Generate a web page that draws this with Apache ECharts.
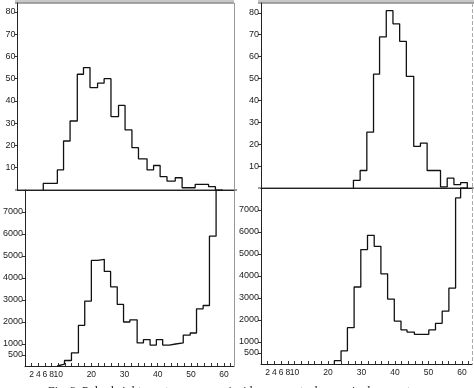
<!DOCTYPE html>
<html><head><meta charset="utf-8">
<script src="https://cdn.jsdelivr.net/npm/echarts@6/dist/echarts.min.js"></script>
<style>html,body{margin:0;padding:0;background:#fff}#c{width:474px;height:388px}</style>
</head><body><div id="c"></div>
<script>
// ---- data (bin edges and counts) ----
const edgesTopLeft = [7.5, 11.6, 13.4, 15.3, 17.4, 19.2, 21.1, 23.3, 25.2, 27.2, 29.4, 31.3, 33.3, 35.2, 37.7, 39.6, 41.5, 43.5, 45.9, 47.9, 51.7, 55.6, 57.6];
const countsTopLeft = [3, 9, 22, 31, 52, 55, 46, 48, 50, 33, 38, 27, 19, 14, 9, 11, 6, 4, 5.5, 1, 2.5, 1.5];

const edgesBottomLeft = [9.7, 11.9, 14.0, 16.1, 18.0, 20.0, 21.9, 23.9, 25.8, 27.8, 29.7, 31.6, 33.8, 35.7, 37.7, 39.6, 41.5, 43.5, 45.4, 47.7, 49.8, 51.7, 53.7, 55.6, 57.6, 59.6];
const countsBottomLeft = [80, 250, 600, 1850, 2950, 4800, 4850, 4300, 3600, 2800, 2000, 2100, 1050, 1200, 950, 1200, 950, 1000, 1050, 1400, 1500, 2600, 2750, 5900, 8000];

const edgesTopRight = [27.6, 29.6, 31.6, 33.6, 35.4, 37.4, 39.4, 41.4, 43.4, 45.6, 47.6, 49.6, 53.6, 55.6, 57.6, 59.6, 61.6];
const countsTopRight = [3.5, 8, 25.5, 52, 69, 81, 75, 67, 51, 19, 20.5, 8, 0.5, 4.5, 1.5, 2.5];

const edgesBottomRight = [21.9, 23.9, 25.8, 27.8, 29.8, 31.8, 33.8, 35.8, 37.8, 39.8, 41.8, 43.6, 45.8, 50.1, 52.1, 54.1, 56.1, 58.1, 59.6, 61.6];
const countsBottomRight = [150, 600, 1650, 3500, 5200, 5850, 5350, 4100, 2950, 1950, 1550, 1450, 1350, 1550, 1850, 2400, 3450, 7550, 8000];

const xTickLabels = [2, 4, 6, 8, 10, 20, 30, 40, 50, 60];
const xMinorTicks = [2,4,6,8,10,12,14,16,18,20,22,24,26,28,30,32,34,36,38,40,42,44,46,48,50,52,54,56,58,60,62];
const yTickLabelsTop = [10, 20, 30, 40, 50, 60, 70, 80];
const yTickLabelsBottom = [500, 1000, 2000, 3000, 4000, 5000, 6000, 7000];
const captionText = "Fig. 3. Pulse height spectra: upper, coincidence events; lower, singles counts";

// ---- build step outlines ----
function outline(edges, counts, overflow) {
  const pts = [[edges[0], 0]];
  for (let i = 0; i < counts.length; i++) {
    pts.push([edges[i], counts[i]]);
    pts.push([edges[i + 1], counts[i]]);
  }
  if (!overflow) pts.push([edges[edges.length - 1], 0]);
  return pts;
}

const FONT = 'Liberation Sans';
const lineCol = '#111';
const plain = v => String(v);

function xAxis(gi, showLabels) {
  return {
    type: 'value', gridIndex: gi, min: 0, max: 63,
    axisLine: {show: true, onZero: false, lineStyle: {color: '#222', width: 1}},
    splitLine: {show: false},
    axisTick: showLabels ? {show: true, inside: true, length: 3, customValues: xMinorTicks, lineStyle: {color: '#333'}} : {show: false},
    axisLabel: showLabels ? {show: true, customValues: xTickLabels, formatter: plain, fontFamily: FONT, fontSize: 8.5, color: '#222', margin: 4} : {show: false}
  };
}
function yAxis(gi, max, vals) {
  return {
    type: 'value', gridIndex: gi, min: 0, max: max,
    axisLine: {show: true, lineStyle: {color: '#222', width: 1}},
    splitLine: {show: false},
    axisTick: {show: true, inside: false, length: 3, customValues: vals, lineStyle: {color: '#333'}},
    axisLabel: {show: true, customValues: vals, formatter: plain, fontFamily: FONT, fontSize: 9, color: '#222', margin: 2}
  };
}

const chart = echarts.init(document.getElementById('c'), null, {renderer: 'canvas'});
chart.setOption({
  animation: false,
  backgroundColor: '#fff',
  grid: [
    {left: 17.5, top: 3, width: 216.5, height: 187},
    {left: 17.5, top: 190, width: 216.5, height: 176},
    {left: 261, top: 3, width: 211, height: 185},
    {left: 261, top: 188, width: 211, height: 176}
  ],
  xAxis: [xAxis(0, false), xAxis(1, true), xAxis(2, false), xAxis(3, true)],
  yAxis: [yAxis(0, 84, yTickLabelsTop), yAxis(1, 8000, yTickLabelsBottom), yAxis(2, 84.5, yTickLabelsTop), yAxis(3, 8000, yTickLabelsBottom)],
  series: [
    {type: 'line', xAxisIndex: 0, yAxisIndex: 0, data: outline(edgesTopLeft, countsTopLeft, false)},
    {type: 'line', xAxisIndex: 1, yAxisIndex: 1, data: outline(edgesBottomLeft, countsBottomLeft, true)},
    {type: 'line', xAxisIndex: 2, yAxisIndex: 2, data: outline(edgesTopRight, countsTopRight, false)},
    {type: 'line', xAxisIndex: 3, yAxisIndex: 3, data: outline(edgesBottomRight, countsBottomRight, true)}
  ].map(s => Object.assign(s, {showSymbol: false, symbol: 'none', clip: true, lineStyle: {color: lineCol, width: 1.3}})),
  graphic: [
    {type: 'rect', shape: {x: 15, y: 0, width: 219, height: 2.5}, style: {fill: '#c8c8c8'}, silent: true},
    {type: 'rect', shape: {x: 258, y: 0, width: 216, height: 2.5}, style: {fill: '#c8c8c8'}, silent: true},
    {type: 'line', shape: {x1: 15, y1: 3, x2: 234, y2: 3}, style: {stroke: '#555', lineWidth: 1}, silent: true},
    {type: 'line', shape: {x1: 258, y1: 3, x2: 474, y2: 3}, style: {stroke: '#555', lineWidth: 1}, silent: true},
    {type: 'line', shape: {x1: 15, y1: 190, x2: 237, y2: 190}, style: {stroke: '#333', lineWidth: 1}, silent: true},
    {type: 'line', shape: {x1: 258, y1: 188, x2: 474, y2: 188}, style: {stroke: '#444', lineWidth: 1}, silent: true},
    {type: 'line', shape: {x1: 234.5, y1: 3, x2: 234.5, y2: 366}, style: {stroke: '#999', lineWidth: 1}, silent: true},
    {type: 'line', shape: {x1: 472.5, y1: 3, x2: 472.5, y2: 364}, style: {stroke: '#aaa', lineWidth: 1, lineDash: [4, 2]}, silent: true},
    {type: 'text', left: 48, top: 386, style: {text: captionText, font: '12px "Liberation Serif"', fill: '#222'}, silent: true}
  ]
});
</script>
</body></html>
